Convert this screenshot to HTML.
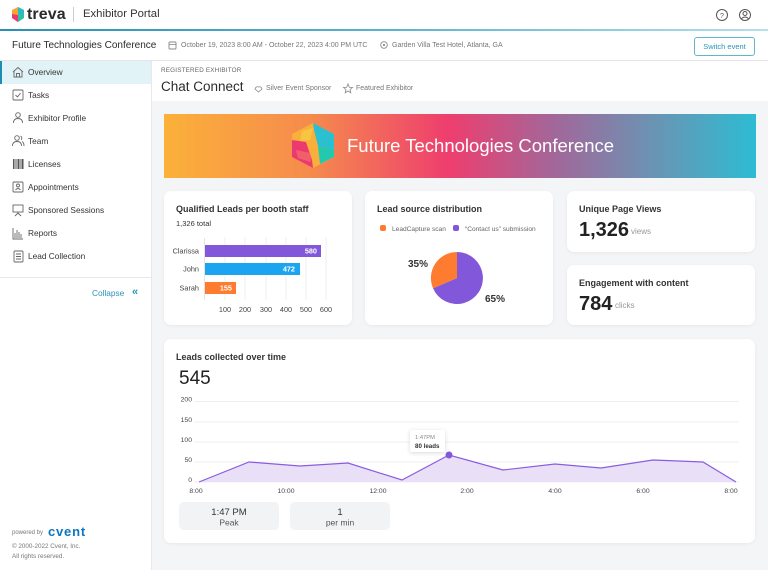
<!DOCTYPE html>
<html><head><meta charset="utf-8">
<style>
*{margin:0;padding:0;box-sizing:border-box}
html,body{width:768px;height:570px;overflow:hidden;background:#f4f5f7;font-family:"Liberation Sans",sans-serif;color:#333}
.a{position:absolute;white-space:nowrap;line-height:1}
.card{position:absolute;background:#fff;border-radius:7px;box-shadow:0 1px 3px rgba(0,0,0,0.06)}
</style></head><body>
<!-- header -->
<div class="a" style="left:0;top:0;width:768px;height:30px;background:#fff"></div>
<div class="a" style="left:0;top:29px;width:768px;height:2px;background:linear-gradient(90deg,#2a8fb5,#5bb3cc 50%,#b4e0ea)"></div>
<div class="a" style="left:0;top:31px;width:768px;height:30px;background:#fff;border-bottom:1px solid #e3e5e8"></div>
<!-- sidebar -->
<div class="a" style="left:0;top:61px;width:152px;height:509px;background:#fff;border-right:1px solid #e6e8eb"></div>
<div class="a" style="left:0;top:61px;width:151px;height:23px;background:#e2f3f8;border-left:2px solid #1f8db3"></div>
<div class="a" style="left:0;top:277px;width:151px;height:1px;background:#e6e8eb"></div>
<!-- main top -->
<div class="a" style="left:152px;top:61px;width:616px;height:40px;background:#fff"></div>

<!-- header text -->
<div class="a" style="left:27px;top:7px;font-size:16px;font-weight:bold;color:#2b2b2b;letter-spacing:0.1px">treva</div>
<div class="a" style="left:73px;top:7px;width:1px;height:15px;background:#ccc"></div>
<div class="a" style="left:83px;top:8.5px;font-size:11.3px;color:#333">Exhibitor Portal</div>
<div class="a" style="left:12px;top:41px;font-size:10px;color:#2b2b2b">Future Technologies Conference</div>
<div class="a" style="left:181px;top:42px;font-size:7px;color:#777">October 19, 2023 8:00 AM - October 22, 2023 4:00 PM UTC</div>
<div class="a" style="left:392px;top:42px;font-size:7px;color:#777">Garden Villa Test Hotel, Atlanta, GA</div>
<div class="a" style="left:694px;top:37px;width:61px;height:19px;border:1px solid #5fb6cf;border-radius:3px;font-size:7.5px;color:#2a94b8;text-align:center;line-height:17px">Switch event</div>

<!-- sidebar text -->
<div class="a" style="left:28px;top:68px;font-size:8.3px;color:#333">Overview</div>
<div class="a" style="left:28px;top:91px;font-size:8.3px;color:#333">Tasks</div>
<div class="a" style="left:28px;top:114px;font-size:8.3px;color:#333">Exhibitor Profile</div>
<div class="a" style="left:28px;top:137px;font-size:8.3px;color:#333">Team</div>
<div class="a" style="left:28px;top:160px;font-size:8.3px;color:#333">Licenses</div>
<div class="a" style="left:28px;top:183px;font-size:8.3px;color:#333">Appointments</div>
<div class="a" style="left:28px;top:206px;font-size:8.3px;color:#333">Sponsored Sessions</div>
<div class="a" style="left:28px;top:229px;font-size:8.3px;color:#333">Reports</div>
<div class="a" style="left:28px;top:252px;font-size:8.3px;color:#333">Lead Collection</div>
<div class="a" style="left:92px;top:289px;font-size:8.3px;color:#2a94b8">Collapse</div>
<div class="a" style="left:132px;top:287px;font-size:11px;color:#2a94b8;font-weight:bold">«</div>
<div class="a" style="left:12px;top:530px;font-size:6px;color:#777">powered by</div>
<div class="a" style="left:48px;top:525px;font-size:13px;color:#0b78c0;font-weight:bold;letter-spacing:0.8px">cvent</div>
<div class="a" style="left:12px;top:544px;font-size:6.3px;color:#777">© 2000-2022 Cvent, Inc.</div>
<div class="a" style="left:12px;top:554px;font-size:6.3px;color:#777">All rights reserved.</div>

<!-- main top text -->
<div class="a" style="left:161px;top:68px;font-size:6.3px;color:#666;letter-spacing:0.2px">REGISTERED EXHIBITOR</div>
<div class="a" style="left:161px;top:80px;font-size:13.5px;color:#2b2b2b">Chat Connect</div>
<div class="a" style="left:266px;top:85px;font-size:7px;color:#777">Silver Event Sponsor</div>
<div class="a" style="left:356px;top:85px;font-size:7px;color:#777">Featured Exhibitor</div>

<!-- banner -->
<div class="a" style="left:164px;top:114px;width:592px;height:64px;background:linear-gradient(90deg,#fbb13a 0%,#f58a4d 25%,#ee3e6e 48%,#a2679a 66%,#6d92b2 82%,#2dbcd3 100%)"></div>
<div class="a" style="left:347px;top:136.5px;font-size:18.5px;color:#fff">Future Technologies Conference</div>

<!-- cards -->
<div class="card" style="left:164px;top:191px;width:188px;height:134px"></div>
<div class="card" style="left:365px;top:191px;width:188px;height:134px"></div>
<div class="card" style="left:567px;top:191px;width:188px;height:61px"></div>
<div class="card" style="left:567px;top:265px;width:188px;height:60px"></div>
<div class="card" style="left:164px;top:339px;width:591px;height:204px"></div>

<div class="a" style="left:176px;top:205px;font-size:9px;font-weight:bold;color:#333">Qualified Leads per booth staff</div>
<div class="a" style="left:176px;top:220px;font-size:7.5px;color:#333">1,326 total</div>
<div class="a" style="left:377px;top:205px;font-size:9px;font-weight:bold;color:#333">Lead source distribution</div>
<div class="a" style="left:579px;top:205px;font-size:9px;font-weight:bold;color:#333">Unique Page Views</div>
<div class="a" style="left:579px;top:220px;font-size:20px;font-weight:bold;color:#222">1,326</div>
<div class="a" style="left:631px;top:228px;font-size:8px;color:#999">views</div>
<div class="a" style="left:579px;top:279px;font-size:9px;font-weight:bold;color:#333">Engagement with content</div>
<div class="a" style="left:579px;top:294px;font-size:20px;font-weight:bold;color:#222">784</div>
<div class="a" style="left:615px;top:302px;font-size:8px;color:#999">clicks</div>
<div class="a" style="left:176px;top:353px;font-size:9px;font-weight:bold;color:#333">Leads collected over time</div>
<div class="a" style="left:179px;top:369px;font-size:19px;color:#222">545</div>

<svg class="a" style="left:0;top:0" width="768" height="570" viewBox="0 0 768 570" font-family="Liberation Sans, sans-serif">
<!-- header icons -->
<g>
<path d="M18 7 L24 10 L24 18 L18 22 L12 18 L12 10 Z" fill="#f7a533"/>
<path d="M18 7 L24 10 L24 15 L18 14 Z" fill="#27bcc9"/>
<path d="M12 14 L18 15 L18 22 L12 18 Z" fill="#ec3a6e"/>
<path d="M18 14 L24 15 L24 18 L18 22 Z" fill="#2cc4a8"/>
</g>
<circle cx="722" cy="15" r="5.5" fill="none" stroke="#555" stroke-width="1"/>
<text x="722" y="18" font-size="7" text-anchor="middle" fill="#555">?</text>
<circle cx="745" cy="15" r="5.5" fill="none" stroke="#555" stroke-width="1"/>
<circle cx="745" cy="13.5" r="2" fill="none" stroke="#555" stroke-width="1"/>
<path d="M741.5 18.5 Q745 15.5 748.5 18.5" fill="none" stroke="#555" stroke-width="1"/>
<!-- bar2 icons -->
<rect x="169" y="42" width="7" height="7" rx="1" fill="none" stroke="#888" stroke-width="0.9"/>
<line x1="169" y1="44.5" x2="176" y2="44.5" stroke="#888" stroke-width="0.8"/>
<circle cx="384" cy="45" r="3.3" fill="none" stroke="#888" stroke-width="0.9"/>
<circle cx="384" cy="45" r="1.1" fill="#888"/>
<!-- main top icons -->
<path d="M255 89 Q256 86 258.5 87 Q261 86 262 89 L258.5 92 Z" fill="none" stroke="#888" stroke-width="0.8"/>
<path d="M348 84 L349.3 87.3 L352.5 87.5 L350 89.6 L350.8 92.8 L348 91 L345.2 92.8 L346 89.6 L343.5 87.5 L346.7 87.3 Z" fill="none" stroke="#888" stroke-width="0.8"/>
<!-- sidebar icons -->
<g fill="none" stroke="#666" stroke-width="0.9">
<path d="M13 72 L18 67.5 L23 72 M14 71 L14 77 L22 77 L22 71 M16.5 77 L16.5 73.5 L19.5 73.5 L19.5 77"/>
<rect x="13" y="90" width="10" height="10" rx="1"/>
<path d="M15.5 95 L17.5 97 L20.5 93"/>
<circle cx="18" cy="115" r="2.3"/>
<path d="M13.5 123 Q13.5 118.5 18 118.5 Q22.5 118.5 22.5 123"/>
<circle cx="17" cy="138" r="2.3"/><path d="M12.5 146 Q12.5 141.5 17 141.5 Q21.5 141.5 21.5 146"/>
<path d="M20.5 136 Q22.5 137 21.5 140 M22 141.5 Q24 142.5 24 146"/>
<rect x="13" y="182" width="10" height="10" rx="1"/>
<circle cx="18" cy="185.5" r="1.5"/><path d="M15.5 190 Q18 187 20.5 190"/>
<rect x="13" y="205" width="10" height="7"/><path d="M18 212 L18 214 M15 216 L18 213 L21 216"/>
<path d="M13 228 L13 239 L23 239 M15 238 L15 233 M17 238 L17 230 M19 238 L19 232 M21 238 L21 234"/>
<rect x="14" y="251" width="9" height="11" rx="1"/><path d="M16 254 L21 254 M16 256.5 L21 256.5 M16 259 L21 259"/>
</g>
<g fill="#555"><rect x="13" y="159" width="1.5" height="10"/><rect x="15.5" y="159" width="1" height="10"/><rect x="17.5" y="159" width="2" height="10"/><rect x="20.5" y="159" width="1" height="10"/><rect x="22" y="159" width="1.5" height="10"/></g>
<!-- banner logo -->
<g>
<path d="M313 123 L334 134 L334 157 L313 168 L292 157 L292 134 Z" fill="#fbb13a" opacity="0.95"/>
<path d="M313 123 L334 134 L334 150 L318 146 L314 130 Z" fill="#2bbfcf"/>
<path d="M318 146 L334 150 L334 157 L320 164 Z" fill="#22c9ae"/>
<path d="M292 140 L306 142 L312 160 L313 168 L292 157 Z" fill="#ec3a70"/>
<path d="M302 131 L313 128 L310 140 L300 141 Z" fill="#f7c542"/>
<path d="M296 150 L310 153 L311 162 L298 158 Z" fill="#f0606a"/>
</g>
<!-- bar chart -->
<g stroke="#ebebeb" stroke-width="0.8">
<line x1="225" y1="237" x2="225" y2="300"/><line x1="245" y1="237" x2="245" y2="300"/><line x1="266" y1="237" x2="266" y2="300"/>
<line x1="286" y1="237" x2="286" y2="300"/><line x1="306" y1="237" x2="306" y2="300"/><line x1="326" y1="237" x2="326" y2="300"/>
</g>
<line x1="204.5" y1="238" x2="204.5" y2="300" stroke="#ddd" stroke-width="0.8"/>
<rect x="205" y="245" width="116" height="12" fill="#8357d9"/>
<rect x="205" y="263" width="95" height="12" fill="#1ca4f1"/>
<rect x="205" y="282" width="31" height="12" fill="#ff7b30"/>
<g font-size="7.3" font-weight="bold" fill="#fff" text-anchor="end">
<text x="317" y="253.5">580</text><text x="295" y="271.5">472</text><text x="232" y="290.5">155</text>
</g>
<g font-size="7.3" fill="#444" text-anchor="end">
<text x="199" y="253.5">Clarissa</text><text x="199" y="271.5">John</text><text x="199" y="290.5">Sarah</text>
</g>
<g font-size="7.3" fill="#444" text-anchor="middle">
<text x="225" y="312">100</text><text x="245" y="312">200</text><text x="266" y="312">300</text><text x="286" y="312">400</text><text x="306" y="312">500</text><text x="326" y="312">600</text>
</g>
<!-- pie -->
<rect x="380" y="225" width="6" height="6" rx="2" fill="#ff7b30"/>
<text x="392" y="231" font-size="6.6" fill="#666">LeadCapture scan</text>
<rect x="453" y="225" width="6" height="6" rx="2" fill="#8357d9"/>
<text x="465" y="231" font-size="6.6" fill="#666">“Contact us” submission</text>
<path d="M457 278 L457 252 A26 26 0 1 1 433 288.2 Z" fill="#8357d9"/>
<path d="M457 278 L457 252 A26 26 0 0 0 433 288.2 Z" fill="#ff7b30"/>
<text x="408" y="267" font-size="10" font-weight="bold" fill="#333">35%</text>
<text x="485" y="302" font-size="10" font-weight="bold" fill="#333">65%</text>
<!-- line chart -->
<g stroke="#eaeaea" stroke-width="0.8">
<line x1="194" y1="401.5" x2="739" y2="401.5"/><line x1="194" y1="422" x2="739" y2="422"/>
<line x1="194" y1="442" x2="739" y2="442"/><line x1="194" y1="462" x2="739" y2="462"/>
<line x1="194" y1="482" x2="739" y2="482"/>
</g>
<g font-size="6.8" fill="#444" text-anchor="end">
<text x="192" y="401.5">200</text><text x="192" y="422">150</text><text x="192" y="442">100</text><text x="192" y="462">50</text><text x="192" y="482">0</text>
</g>
<g font-size="6.8" fill="#444" text-anchor="middle">
<text x="196" y="493">8:00</text><text x="286" y="493">10:00</text><text x="378" y="493">12:00</text><text x="467" y="493">2:00</text><text x="555" y="493">4:00</text><text x="643" y="493">6:00</text><text x="731" y="493">8:00</text>
</g>
<path d="M199 482 L249 462 L300 466 L348 463 L402 480 L449 455 L503 470 L555 464 L601 468 L653 460 L703 462 L736 482 Z" fill="#e9e0f8"/>
<path d="M199 482 L249 462 L300 466 L348 463 L402 480 L449 455 L503 470 L555 464 L601 468 L653 460 L703 462 L736 482" fill="none" stroke="#8a5ce0" stroke-width="1.2"/>
<circle cx="449" cy="455" r="3.5" fill="#8357d9"/>
<rect x="410" y="430" width="35" height="22" rx="2" fill="#fff" style="filter:drop-shadow(0 1px 2px rgba(0,0,0,0.15))"/>
<text x="415" y="439" font-size="5.8" fill="#888">1:47PM</text>
<text x="415" y="448" font-size="6.2" font-weight="bold" fill="#333">80 leads</text>
<rect x="179" y="502" width="100" height="28" rx="5" fill="#f2f3f5"/>
<rect x="290" y="502" width="100" height="28" rx="5" fill="#f2f3f5"/>
<g text-anchor="middle" fill="#333">
<text x="229" y="515" font-size="9.5">1:47 PM</text><text x="229" y="525.5" font-size="8.5" fill="#555">Peak</text>
<text x="340" y="515" font-size="9.5">1</text><text x="340" y="525.5" font-size="8.5" fill="#555">per min</text>
</g>
</svg>
</body></html>
